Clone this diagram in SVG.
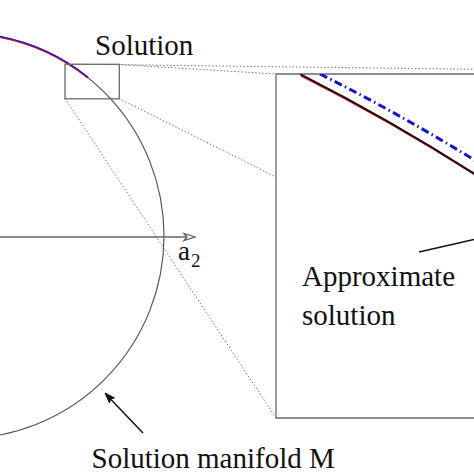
<svg xmlns="http://www.w3.org/2000/svg" width="474" height="474" viewBox="0 0 474 474">
<style>
.dot{fill:none;stroke:#777;stroke-width:1;stroke-dasharray:1.5 2}
.frame{fill:none;stroke:#6a6a6a;stroke-width:1.3}
</style>
<defs>
<clipPath id="bigclip"><rect x="276" y="74" width="198" height="344"/></clipPath>
</defs>
<rect width="474" height="474" fill="#fff"/>
<g id="manifold">
<circle cx="-38.7" cy="236" r="202.7" fill="none" stroke="#555" stroke-width="1.2"/>
<path d="M0,37 A202.7,202.7 0 0 1 88,77.8" fill="none" stroke="#d01030" stroke-width="1.8"/>
<path d="M0,36.4 A202.7,202.7 0 0 1 88,77.2" fill="none" stroke="#2020c0" stroke-width="1.3"/>
</g>
<g id="axis" font-family="'Liberation Serif', 'Times New Roman', Times, serif" fill="#111">
<line x1="0" y1="237" x2="193" y2="237" stroke="#666" stroke-width="1.5"/>
<path d="M184,233.5 L195,237 L184,240.5 L187,237 Z" fill="#fff" stroke="#555" stroke-width="1.2"/>
<text x="178" y="260" font-size="27">a</text>
<text x="191" y="267" font-size="19">2</text>
</g>
<g id="connectors">
<line class="dot" x1="65" y1="64" x2="474" y2="69.3"/>
<line class="dot" x1="119" y1="64.5" x2="276" y2="74"/>
<line class="dot" x1="119" y1="98.5" x2="276" y2="177"/>
<line class="dot" x1="65" y1="98.5" x2="276" y2="418"/>
</g>
<g id="zoombox">
<rect class="frame" x="65" y="64.3" width="54.3" height="34.5"/>
</g>
<g id="bigbox" font-family="'Liberation Serif', 'Times New Roman', Times, serif" fill="#111">
<path class="frame" d="M480,74 H276 V418 H480" stroke-width="1.5"/>
<g clip-path="url(#bigclip)">
<path d="M300.8,75.2 Q390.2,120.5 474.8,174.2" fill="none" stroke="#d01010" stroke-width="2.4"/>
<path d="M300,74 Q389.4,119.3 476,175" fill="none" stroke="#111" stroke-width="1.8"/>
<path d="M320,74 Q399,113.5 476,161" fill="none" stroke="#1515c8" stroke-width="3" stroke-dasharray="8 3.5 1.5 3.5"/>
</g>
<line x1="419" y1="252" x2="474" y2="239.5" stroke="#111" stroke-width="1.4"/>
<text x="302" y="286" font-size="29">Approximate</text>
<text x="302" y="325" font-size="29">solution</text>
</g>
<g id="labels" font-family="'Liberation Serif', 'Times New Roman', Times, serif" fill="#111">
<text x="95" y="55" font-size="29">Solution</text>
<line x1="143" y1="433" x2="110" y2="398.5" stroke="#111" stroke-width="1.5"/>
<path d="M105,393 L114.5,398 L110.5,399 L109.5,403 Z" fill="#111" stroke="#111" stroke-width="1"/>
<text x="91.5" y="468" font-size="29">Solution manifold M</text>
</g>
</svg>
